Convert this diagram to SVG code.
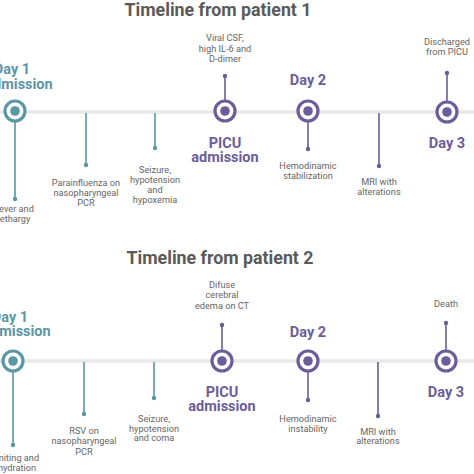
<svg xmlns="http://www.w3.org/2000/svg" width="474" height="474" viewBox="0 0 474 474">
<style>
.title{font-family:Roboto,"Liberation Sans",sans-serif;font-weight:bold;font-size:17.8px;fill:#5a5a5a;text-anchor:middle}
.lbl{font-family:Roboto,"Liberation Sans",sans-serif;font-size:9.2px;fill:#666;text-anchor:middle}
.big{font-family:Roboto,"Liberation Sans",sans-serif;font-weight:bold;font-size:14.5px;text-anchor:middle}
.t{fill:#5b96a6}
.p{fill:#6a5d99}
.axis{stroke:#e8e8e8;stroke-width:3.5}
.tk{stroke-width:1.6;fill:none}
.st{stroke:#5b96a6}
.sp{stroke:#6a5d99}
.ring{fill:#fff;stroke-width:3.2}
</style>
<rect width="474" height="474" fill="#fff"/>
<text class="title" x="218" y="15.5">Timeline from patient 1</text>
<text class="title" x="220" y="264">Timeline from patient 2</text>
<g id="connectors">
<line class="axis" x1="0" y1="112" x2="474" y2="112"/>
<line class="axis" x1="0" y1="361" x2="474" y2="361"/>
<g class="st tk">
<line x1="15" y1="112" x2="15" y2="199"/>
<line x1="86" y1="113" x2="86" y2="165"/>
<line x1="155" y1="113" x2="155" y2="148"/>
<line x1="13" y1="361" x2="13" y2="445"/>
<line x1="84" y1="362" x2="84" y2="414"/>
<line x1="154" y1="362" x2="154" y2="398"/>
</g>
<g class="sp tk">
<line x1="225" y1="111" x2="225" y2="76"/>
<line x1="308" y1="111" x2="308" y2="149"/>
<line x1="379" y1="113" x2="379" y2="166"/>
<line x1="447" y1="112" x2="447" y2="73"/>
<line x1="222" y1="361" x2="222" y2="325"/>
<line x1="308" y1="361" x2="308" y2="400"/>
<line x1="378" y1="362" x2="378" y2="416"/>
<line x1="446" y1="361" x2="446" y2="323"/>
</g>
<g class="t">
<circle cx="15" cy="199" r="2.2"/><circle cx="86" cy="165" r="2.2"/><circle cx="155" cy="148" r="2.2"/>
<circle cx="13" cy="445" r="2.2"/><circle cx="84" cy="414" r="2.2"/><circle cx="154" cy="398" r="2.2"/>
</g>
<g class="p">
<circle cx="225" cy="76" r="2.2"/><circle cx="308" cy="149" r="2.2"/><circle cx="379" cy="166" r="2.2"/><circle cx="447" cy="73" r="2.2"/>
<circle cx="222" cy="325" r="2.2"/><circle cx="308" cy="400" r="2.2"/><circle cx="378" cy="416" r="2.2"/><circle cx="446" cy="323" r="2.2"/>
</g>
</g>
<g id="p1-day1">
<circle class="ring st" cx="15" cy="111" r="10"/><circle class="t" cx="15" cy="111" r="4.8"/>
<text class="big t" x="12" y="74">Day 1</text><text class="big t" x="19" y="89">admission</text>
<text class="lbl" x="14" y="212">Fever and</text><text class="lbl" x="14" y="222">lethargy</text>
</g>
<g id="p1-parainfluenza">
<text class="lbl" x="86" y="186">Parainfluenza on</text><text class="lbl" x="86" y="196">nasopharyngeal</text><text class="lbl" x="86" y="206">PCR</text>
</g>
<g id="p1-seizure">
<text class="lbl" x="155" y="173">Seizure,</text><text class="lbl" x="155" y="183">hypotension</text><text class="lbl" x="155" y="193">and</text><text class="lbl" x="155" y="203">hypoxemia</text>
</g>
<g id="p1-picu">
<circle class="ring sp" cx="225" cy="111" r="10"/><circle class="p" cx="225" cy="111" r="4.8"/>
<text class="lbl" x="225" y="41">Viral CSF,</text><text class="lbl" x="225" y="52">high IL-6 and</text><text class="lbl" x="225" y="62">D-dimer</text>
<text class="big p" x="225" y="148">PICU</text><text class="big p" x="225" y="162">admission</text>
</g>
<g id="p1-day2">
<circle class="ring sp" cx="308" cy="111" r="10"/><circle class="p" cx="308" cy="111" r="4.8"/>
<text class="big p" x="308" y="85">Day 2</text>
<text class="lbl" x="308" y="169">Hemodinamic</text><text class="lbl" x="308" y="179">stabilization</text>
</g>
<g id="p1-mri">
<text class="lbl" x="379" y="185">MRI with</text><text class="lbl" x="379" y="195">alterations</text>
</g>
<g id="p1-day3">
<circle class="ring sp" cx="447" cy="112" r="10"/><circle class="p" cx="447" cy="112" r="4.8"/>
<text class="lbl" x="447" y="45">Discharged</text><text class="lbl" x="447" y="55">from PICU</text>
<text class="big p" x="447" y="148">Day 3</text>
</g>
<g id="p2-day1">
<circle class="ring st" cx="13" cy="361" r="10"/><circle class="t" cx="13" cy="361" r="4.8"/>
<text class="big t" x="10" y="322">Day 1</text><text class="big t" x="17" y="336">admission</text>
<text class="lbl" x="12" y="461">Vomiting and</text><text class="lbl" x="12" y="471">dehydration</text>
</g>
<g id="p2-rsv">
<text class="lbl" x="84" y="434">RSV on</text><text class="lbl" x="84" y="444">nasopharyngeal</text><text class="lbl" x="84" y="455">PCR</text>
</g>
<g id="p2-seizure">
<text class="lbl" x="154" y="422">Seizure,</text><text class="lbl" x="154" y="432">hypotension</text><text class="lbl" x="154" y="441">and coma</text>
</g>
<g id="p2-picu">
<circle class="ring sp" cx="222" cy="361" r="10"/><circle class="p" cx="222" cy="361" r="4.8"/>
<text class="lbl" x="222" y="288">Difuse</text><text class="lbl" x="222" y="298">cerebral</text><text class="lbl" x="222" y="309">edema on CT</text>
<text class="big p" x="222" y="397">PICU</text><text class="big p" x="222" y="411">admission</text>
</g>
<g id="p2-day2">
<circle class="ring sp" cx="308" cy="361" r="10"/><circle class="p" cx="308" cy="361" r="4.8"/>
<text class="big p" x="308" y="337">Day 2</text>
<text class="lbl" x="308" y="422">Hemodinamic</text><text class="lbl" x="308" y="432">instability</text>
</g>
<g id="p2-mri">
<text class="lbl" x="378" y="435">MRI with</text><text class="lbl" x="378" y="444">alterations</text>
</g>
<g id="p2-day3">
<circle class="ring sp" cx="446" cy="361" r="10"/><circle class="p" cx="446" cy="361" r="4.8"/>
<text class="lbl" x="446" y="307">Death</text>
<text class="big p" x="446" y="397">Day 3</text>
</g>
</svg>
